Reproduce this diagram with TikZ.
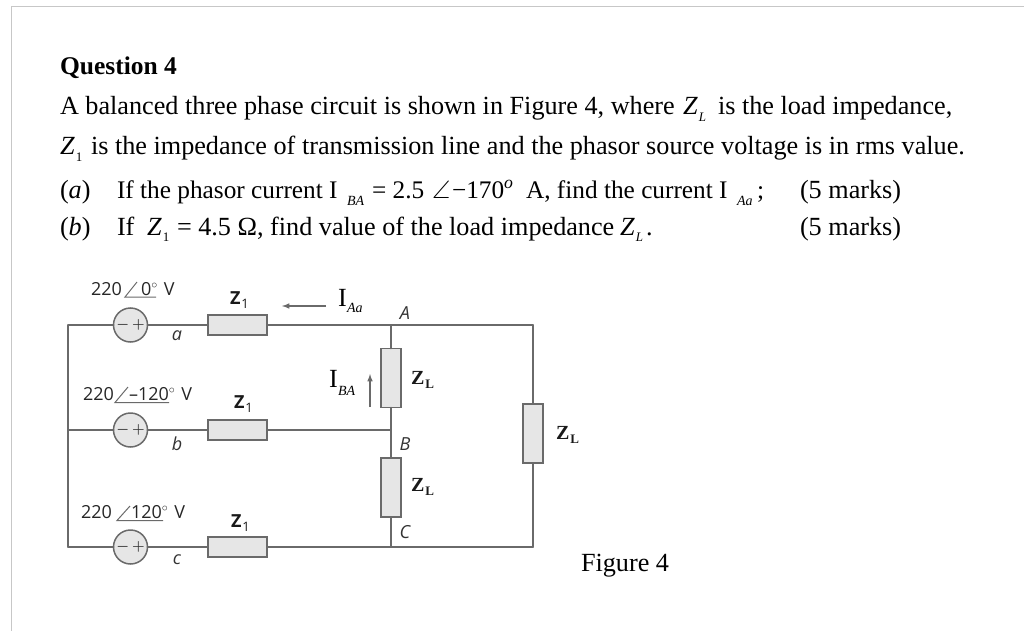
\documentclass[tikz,border=0pt]{standalone}
\usepackage{amssymb}
\usepackage{amsmath}
\usepackage{fontspec}
\setmainfont{Liberation Serif}
\newfontfamily\labelfont{Open Sans}
\usepackage{tikz}
\definecolor{wire}{HTML}{6A6A6A}
\definecolor{boxfill}{HTML}{E6E6E6}
\newcommand{\dn}[1]{\kern1pt\raisebox{-.24em}{\fontsize{13}{13}\selectfont #1}}
\newcommand{\dni}[1]{\kern1pt\raisebox{-.24em}{\fontsize{13}{13}\selectfont\itshape #1}}
\newcommand{\signs}{\makebox[0pt]{$-$\kern3pt$+$}}
\begin{document}
\begin{tikzpicture}[x=1pt,y=-1pt,
    every node/.style={inner sep=0pt,outer sep=0pt},
    txt/.style={anchor=base west,font=\fontsize{26.2}{30}\selectfont},
    txts/.style={anchor=base west,font=\fontsize{25.3}{30}\selectfont},
    subs/.style={anchor=base west,font=\itshape\fontsize{14}{14}\selectfont},
    lab/.style={anchor=base west,text=black!85,font=\labelfont\fontsize{18}{20}\selectfont},
    pt/.style={anchor=base,text=black!80,font=\labelfont\itshape\fontsize{18}{20}\selectfont},
    zone/.style={anchor=base west,font=\labelfont\bfseries\fontsize{18}{20}\selectfont,text=black!90},
    zll/.style={anchor=base west,font=\bfseries\fontsize{20}{22}\selectfont,text=black!90},
    res/.style={rectangle,draw=wire,fill=boxfill,line width=1.5pt,minimum width=59pt,minimum height=20pt},
    resv/.style={rectangle,draw=wire,fill=boxfill,line width=1.5pt,minimum width=20pt,minimum height=59pt},
    src/.style={circle,draw=wire,fill=boxfill,line width=1.5pt,minimum size=34pt,text=black!80,font=\boldmath\fontsize{14}{14}\selectfont}]
    \useasboundingbox (0,0) rectangle (1024,631);
    \draw[black!22,line width=1pt] (1024,6.5) -- (11.5,6.5) -- (11.5,631);

    % question text
    \node[txt,font=\bfseries\fontsize{25.5}{30}\selectfont] (title) at (60,75) {Question 4};
    \node[txt] (l1a) at (60,115) {A balanced three phase circuit is shown in Figure 4, where};
    \node[txt] (l1b) at (683,115) {\textit{Z}\dni{L}};
    \node[txt] (l1c) at (718,115) {is the load impedance,};
    \node[txt] (l2a) at (60,155) {\textit{Z}\dn{1}};
    \node[txt] (l2b) at (91,155) {is the impedance of transmission line and the phasor source voltage is in rms value.};

    \node[txt] (pa) at (60,198) {(\textit{a})};
    \node[txts] (qa) at (117,198) {If the phasor current I};
    \node[subs] (qaba) at (347,205) {BA};
    \node[txts] (qaeq) at (372,198) {= 2.5};
    \node[txts] (qaang) at (432,198) {$\angle$};
    \node[txts] (qaval) at (452,198) {−170$^{\mathit{o}}$};
    \node[txts] (qafind) at (526,198) {A, find the current I};
    \node[subs] (qasub) at (737,205) {Aa};
    \node[txts] (qaend) at (757,198) {;};
    \node[txt] (ma) at (800,198) {(5 marks)};

    \node[txt] (pb) at (60,235) {(\textit{b})};
    \node[txt] (qb) at (117,235) {If};
    \node[txt] (qz) at (147,235) {\textit{Z}\dn{1}};
    \node[txt] (qc) at (177,235) {= 4.5 Ω, find value of the load impedance};
    \node[txt] (qzl) at (620,235) {\textit{Z}\dni{L}};
    \node[txt] (qdot) at (646,235) {.};
    \node[txt] (mb) at (800,235) {(5 marks)};
    \node[txt] (fig) at (581,571) {Figure 4};

    % corners and junctions
    \coordinate (tl) at (68,325);
    \coordinate (ml) at (68,430);
    \coordinate (bl) at (68,547);
    \coordinate (A) at (391,325);
    \coordinate (B) at (391,430);
    \coordinate (C) at (391,547);
    \coordinate (tr) at (533,325);
    \coordinate (br) at (533,547);

    \node[src] (va) at (130.5,325) {\signs};
    \node[src] (vb) at (130.5,430) {\signs};
    \node[src] (vc) at (130.5,547) {\signs};
    \node[res] (za) at (237.5,325) {};
    \node[res] (zb) at (237.5,430) {};
    \node[res] (zc) at (237.5,547) {};
    \node[resv] (zab) at (391,378) {};
    \node[resv] (zbc) at (391,487.5) {};
    \node[resv] (zca) at (533,433.5) {};

    \foreach \from/\to in {tl/ml, ml/bl, tl/va, va/za, za/A, A/tr, tr/zca, zca/br, br/C, C/zc, zc/vc, vc/bl, ml/vb, vb/zb, zb/B, A/zab, zab/B, B/zbc, zbc/C}
        \draw[wire,line width=1.5pt,line cap=round] (\from) -- (\to);

    % source labels
    \node[lab] (ea) at (91,295) {220};
    \node[lab] (ea2) at (141,295) {0$^\circ$\,\,V};
    \node[lab] (eb) at (83,400) {220};
    \node[lab] (eb2) at (129,400) {\textendash 120$^\circ$\,\,V};
    \node[lab] (ec) at (81,518) {220};
    \node[lab] (ec2) at (131,518) {120$^\circ$\,\,V};
    \draw[wire,line width=1pt] (137,282) -- (125,297) -- (156,297);
    \draw[wire,line width=1pt] (128,387) -- (115,402.5) -- (169,402.5);
    \draw[wire,line width=1pt] (130,506) -- (117,520.5) -- (163,520.5);

    \node[pt] (na) at (177,340) {\textit{a}};
    \node[pt] (nb) at (177,450) {\textit{b}};
    \node[pt] (nc) at (177,564) {\textit{c}};
    \node[pt] (nA) at (405,319) {\textit{A}};
    \node[pt] (nB) at (405,450) {\textit{B}};
    \node[pt] (nC) at (405,538) {\textit{C}};

    % impedance labels
    \node[zone] (ta) at (230,304) {Z\dn{\mdseries\labelfont 1}};
    \node[zone] (tb) at (234,408) {Z\dn{\mdseries\labelfont 1}};
    \node[zone] (tc) at (231,527) {Z\dn{\mdseries\labelfont 1}};
    \node[zll] (tab) at (411,384) {Z\dn{\bfseries L}};
    \node[zll] (tbc) at (411,491) {Z\dn{\bfseries L}};
    \node[zll] (tca) at (556,439) {Z\dn{\bfseries L}};

    % currents
    \node[txt] (iaa) at (338,306) {I};
    \node[subs] (iaas) at (347,312) {Aa};
    \node[txt] (iba) at (329,387) {I};
    \node[subs] (ibas) at (338,395) {BA};
    \coordinate (ia1) at (326,306);
    \coordinate (ia2) at (282,306);
    \coordinate (ib1) at (370,407);
    \coordinate (ib2) at (370,374);
    \draw[wire,line width=1.5pt,->,>=latex] (ia1) -- (ia2);
    \draw[wire,line width=1.5pt,->,>=latex] (ib1) -- (ib2);
\end{tikzpicture}
\end{document}
